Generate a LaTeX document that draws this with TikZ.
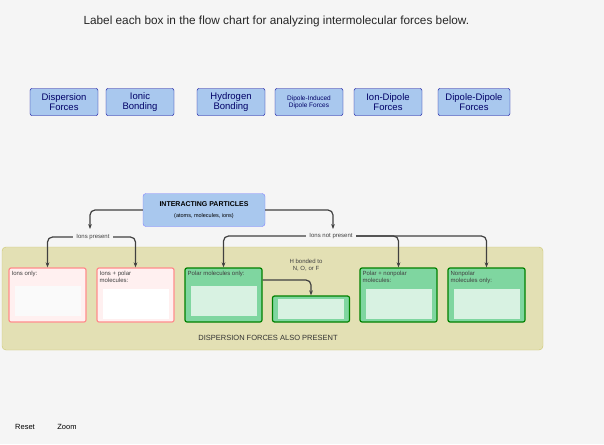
\documentclass[tikz,border=0pt]{standalone}
\usepackage{fontspec}
\setmainfont{Liberation Sans}
\usetikzlibrary{arrows.meta}
\definecolor{gfill}{HTML}{7FD6A0}
\definecolor{gin}{HTML}{D8F2E2}
\definecolor{bfill}{HTML}{A9C8EE}
\definecolor{olbg}{HTML}{E3E0B4}
\begin{document}
\begin{tikzpicture}[x=1pt,y=-1pt,
 btn/.style={draw=blue!60!black,fill=bfill,rounded corners=2pt,align=center,font=\fontsize{9.5}{9.5}\selectfont,text=blue!40!black,minimum width=68pt,minimum height=27pt,inner sep=1pt},
 pinkbox/.style={draw=red!45,line width=1.2pt,fill=red!6,rounded corners=2pt,minimum width=77pt,minimum height=54pt},
 greenbox/.style={draw=green!50!black,line width=1.2pt,fill=gfill,rounded corners=2pt,minimum width=77pt,minimum height=54pt},
 inner/.style={fill=gin,minimum width=66pt,minimum height=30pt,inner sep=0pt},
 lab/.style={font=\fontsize{6}{6.5}\selectfont,align=left,text=black!75,anchor=north west,inner sep=0pt},
 arr/.style={line width=1.2pt,black!75,-{Stealth[length=5pt]},rounded corners=5pt}]
\fill[gray!8] (0,0) rectangle (604,444);
\node[font=\fontsize{11.8}{12}\selectfont,anchor=west,text=black!85] (title) at (80,21) {Label each box in the flow chart for analyzing intermolecular forces below.};
\node[btn] (b1) at (64,102) {Dispersion\\Forces};
\node[btn] (b2) at (140,102) {Ionic\\Bonding};
\node[btn] (b3) at (231,102) {Hydrogen\\Bonding};
\node[btn,font=\fontsize{6.5}{7}\selectfont] (b4) at (309,102) {Dipole-Induced\\Dipole Forces};
\node[btn] (b5) at (388,102) {Ion-Dipole\\Forces};
\node[btn,minimum width=72pt] (b6) at (474,102) {Dipole-Dipole\\Forces};
\node[draw=blue!50,fill=bfill,rounded corners=3pt,minimum width=122pt,minimum height=33pt,align=center,inner sep=1pt] (ip) at (204,210)
 {\fontsize{7}{8}\selectfont\bfseries INTERACTING PARTICLES\\[-1pt]\fontsize{5.5}{6}\selectfont (atoms, molecules, ions)};
\coordinate (lt) at (90,229); \coordinate (rt) at (333,229);
\draw[arr] (ip.west) -| (lt);
\draw[arr] (ip.east) -| (rt);
\fill[olbg,draw=olive!45,rounded corners=4pt] (2,247) rectangle (543,350);
\node[pinkbox] (n1) at (47.5,295) {};
\node[pinkbox] (n2) at (135.5,295) {};
\node[greenbox] (n3) at (223.5,295) {};
\node[greenbox,minimum height=26pt] (n4) at (311,309) {};
\node[greenbox] (n5) at (398.5,295) {};
\node[greenbox] (n6) at (486.5,295) {};
\foreach \n/\t in {n1/{Ions only:},n2/{Ions + polar\\molecules:},n3/{Polar molecules only:},n5/{Polar + nonpolar\\molecules:},n6/{Nonpolar\\molecules only:}}
 \node[lab] at ([xshift=3pt,yshift=-4pt]\n.north west) {\t};
\node[inner,fill=white!96!gray] at ([yshift=-6pt]n1.center) {};
\node[inner,fill=white] at ([yshift=-9pt]n2.center) {};
\node[inner] at ([yshift=-6pt]n3.center) {};
\node[inner,minimum height=20pt] at (n4.center) {};
\node[inner] at ([yshift=-9pt]n5.center) {};
\node[inner] at ([yshift=-9pt]n6.center) {};
\node[font=\fontsize{6}{6.5}\selectfont,text=black!75] (ipl) at (93,237) {Ions present};
\draw[arr] (ipl.west) -| (n1.north);
\draw[arr] (ipl.east) -| (n2.north);
\node[font=\fontsize{6}{6.5}\selectfont,text=black!75] (inp) at (331,236) {Ions not present};
\draw[arr] (inp.west) -| (n3.north);
\draw[arr] (inp.east) -| (n5.north);
\draw[arr] (inp.east) -| (n6.north);
\node[font=\fontsize{6}{6.5}\selectfont,align=center,text=black!75] (hb) at (306,265) {H bonded to\\N, O, or F};
\draw[arr] ([yshift=15pt]n3.east) -| (n4.north);
\node[font=\fontsize{7.5}{8}\selectfont,text=black!80] (disp) at (268,338) {DISPERSION FORCES ALSO PRESENT};
\node[font=\fontsize{7.5}{8}\selectfont] (reset) at (25,427) {Reset};
\node[font=\fontsize{7.5}{8}\selectfont] (zoom) at (67,427) {Zoom};
\end{tikzpicture}
\end{document}
